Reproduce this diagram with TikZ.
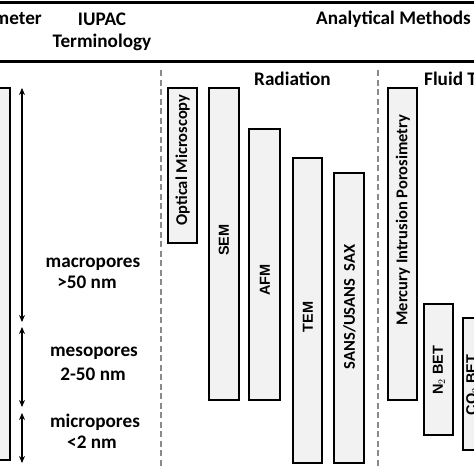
\documentclass[tikz,border=0pt]{standalone}
\usepackage{fontspec}
\setmainfont{Carlito}
\newfontfamily\arialf{Liberation Sans}
\usetikzlibrary{arrows.meta}
\definecolor{boxfill}{HTML}{F2F2F2}
\definecolor{dashgray}{HTML}{8A8A8A}
\tikzset{
  hdr/.style={font=\fontsize{19.2}{22}\selectfont\bfseries, inner sep=0pt},
  method/.style={draw=black, line width=2pt, fill=boxfill},
  mlabel/.style={font=\fontsize{16.5}{19}\selectfont\bfseries, rotate=90, inner sep=0pt},
  alabel/.style={font=\arialf\fontsize{14.5}{17}\selectfont\bfseries, rotate=90, inner sep=0pt},
  rule/.style={line width=3pt, black},
  sep/.style={dashgray, line width=1.3pt, dash pattern=on 6pt off 3.5pt},
  sizearrow/.style={line width=1.6pt, {Stealth[length=7pt,width=6pt]}-{Stealth[length=7pt,width=6pt]}}
}
\begin{document}
\begin{tikzpicture}[x=1pt,y=-1pt]
\useasboundingbox (0,0) rectangle (474,474);
\clip (0,0) rectangle (474,474);
\fill[white] (0,0) rectangle (474,474);
% header rules
\coordinate (r1a) at (-5,2); \coordinate (r1b) at (480,2);
\coordinate (r2a) at (-5,61.5); \coordinate (r2b) at (480,61.5);
\draw[rule] (r1a) -- (r1b);
\draw[rule] (r2a) -- (r2b);
% header texts
\node[hdr, anchor=base east] (hmeter) at (42,24) {meter};
\node[hdr, anchor=base] (hiupac) at (102,25) {IUPAC};
\node[hdr, anchor=base] (hterm) at (102,47) {Terminology};
\node[hdr, anchor=base east] (hanal) at (471,24) {Analytical Methods};
\node[hdr, anchor=base west] (hrad) at (254,85) {Radiation};
\node[hdr, anchor=base west] (hfluid) at (424,85) {Fluid T};
% left scale box
\draw[method] (-10,88) rectangle (9.5,460);
% size arrows
\coordinate (a1) at (22,88); \coordinate (a2) at (22,322);
\coordinate (a3) at (22,327); \coordinate (a4) at (22,407);
\coordinate (a5) at (22,413); \coordinate (a6) at (22,463);
\draw[sizearrow] (a1) -- (a2);
\draw[sizearrow] (a3) -- (a4);
\draw[sizearrow] (a5) -- (a6);
% IUPAC labels
\node[hdr, anchor=base] (macro) at (93,267) {macropores};
\node[hdr, anchor=base] (macrov) at (87,288) {>50 nm};
\node[hdr, anchor=base] (meso) at (94,356) {mesopores};
\node[hdr, anchor=base] (mesov) at (93,380) {2-50 nm};
\node[hdr, anchor=base] (micro) at (95,427) {micropores};
\node[hdr, anchor=base] (microv) at (92,448) {<2 nm};
% dashed separators
\coordinate (d1a) at (161,70); \coordinate (d1b) at (161,467);
\coordinate (d2a) at (378,70); \coordinate (d2b) at (378,467);
\draw[sep] (d1a) -- (d1b);
\draw[sep] (d2a) -- (d2b);
% method boxes
\draw[method] (168,88) rectangle (197,243);
\node[mlabel] (om) at (182.5,160) {Optical Microscopy};
\draw[method] (209,88) rectangle (239,400);
\node[alabel] (sem) at (224,240) {SEM};
\draw[method] (249,129) rectangle (280,400);
\node[alabel] (afm) at (265,280) {AFM};
\draw[method] (293,158) rectangle (322,463);
\node[alabel] (tem) at (308,317) {TEM};
\draw[method] (334,173) rectangle (364,463);
\node[mlabel] (sans) at (349.5,307) {SANS/USANS\ \ SAX};
\draw[method] (388,88) rectangle (417,400);
\node[mlabel] (hg) at (403,220) {Mercury Intrusion Porosimetry};
\draw[method] (424,304) rectangle (453,435);
\node[alabel] (n2) at (439,370) {N$_2$ BET};
\draw[method] (463,318) rectangle (500,450);
\node[alabel] (co2) at (472.5,385) {CO$_2$ BET};
\end{tikzpicture}
\end{document}
